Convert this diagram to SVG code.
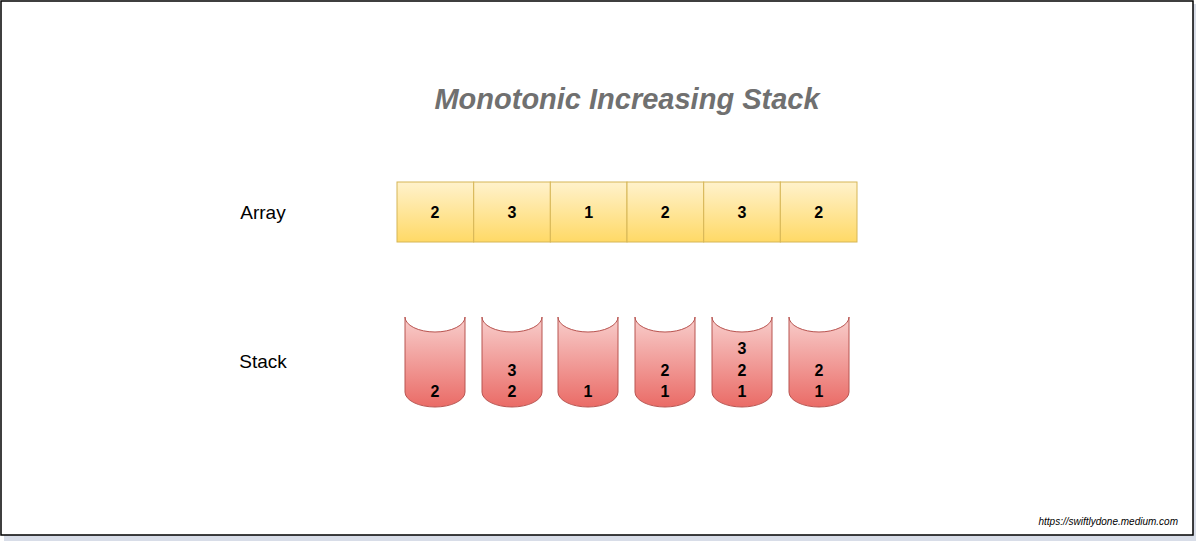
<svg xmlns="http://www.w3.org/2000/svg" width="1200" height="547" viewBox="0 0 1200 547">
<defs>
<linearGradient id="gy" x1="0" y1="0" x2="0" y2="1"><stop offset="0" stop-color="#fff2cc"/><stop offset="1" stop-color="#ffd966"/></linearGradient>
<linearGradient id="gr" x1="0" y1="0" x2="0" y2="1"><stop offset="0" stop-color="#f8cecc"/><stop offset="1" stop-color="#ea6b66"/></linearGradient>
<style>
.cell{fill:url(#gy);stroke:#d6b656;stroke-width:1}
.cyl{fill:url(#gr);stroke:#b85450;stroke-width:1}
.n{font-family:"Liberation Sans",Arial,sans-serif;font-size:16px;font-weight:bold;text-anchor:middle;fill:#000}
.lbl{font-family:"Liberation Sans",Arial,sans-serif;font-size:19px;text-anchor:middle;fill:#000}
</style>
</defs>
<rect width="1200" height="547" fill="#fff"/>
<rect x="4" y="4" width="1192" height="537" fill="#d8dde8"/>
<rect x="1" y="1" width="1192" height="534" fill="#fff" stroke="#000" stroke-width="1.5"/>
<text x="627" y="109" font-family="Liberation Sans,Arial,sans-serif" font-size="29" font-weight="bold" font-style="italic" fill="#707070" text-anchor="middle">Monotonic Increasing Stack</text>
<text class="lbl" x="263" y="219">Array</text>
<text class="lbl" x="263" y="368">Stack</text>
<g id="array">
<rect class="cell" x="397" y="182" width="76.7" height="60"/>
<rect class="cell" x="473.7" y="182" width="76.7" height="60"/>
<rect class="cell" x="550.3" y="182" width="76.7" height="60"/>
<rect class="cell" x="627" y="182" width="76.7" height="60"/>
<rect class="cell" x="703.7" y="182" width="76.7" height="60"/>
<rect class="cell" x="780.3" y="182" width="76.7" height="60"/>
<text class="n" x="435" y="218">2</text>
<text class="n" x="512" y="218">3</text>
<text class="n" x="588.7" y="218">1</text>
<text class="n" x="665.3" y="218">2</text>
<text class="n" x="742" y="218">3</text>
<text class="n" x="818.7" y="218">2</text>
</g>
<g id="stacks">
<g id="s1"><path class="cyl" d="M405,317 A30,15 0 0 0 465,317 V392 A30,15 0 0 1 405,392 Z"/><text class="n" x="435" y="397">2</text></g>
<g id="s2"><path class="cyl" d="M482,317 A30,15 0 0 0 542,317 V392 A30,15 0 0 1 482,392 Z"/><text class="n" x="512" y="376">3</text><text class="n" x="512" y="397">2</text></g>
<g id="s3"><path class="cyl" d="M558,317 A30,15 0 0 0 618,317 V392 A30,15 0 0 1 558,392 Z"/><text class="n" x="588" y="397">1</text></g>
<g id="s4"><path class="cyl" d="M635,317 A30,15 0 0 0 695,317 V392 A30,15 0 0 1 635,392 Z"/><text class="n" x="665" y="376">2</text><text class="n" x="665" y="397">1</text></g>
<g id="s5"><path class="cyl" d="M712,317 A30,15 0 0 0 772,317 V392 A30,15 0 0 1 712,392 Z"/><text class="n" x="742" y="354">3</text><text class="n" x="742" y="376">2</text><text class="n" x="742" y="397">1</text></g>
<g id="s6"><path class="cyl" d="M789,317 A30,15 0 0 0 849,317 V392 A30,15 0 0 1 789,392 Z"/><text class="n" x="819" y="376">2</text><text class="n" x="819" y="397">1</text></g>
</g>
<g id="connectors"/>
<text x="1178" y="525" font-family="Liberation Sans,Arial,sans-serif" font-size="10" font-style="italic" text-anchor="end" fill="#000">https://swiftlydone.medium.com</text>
</svg>
